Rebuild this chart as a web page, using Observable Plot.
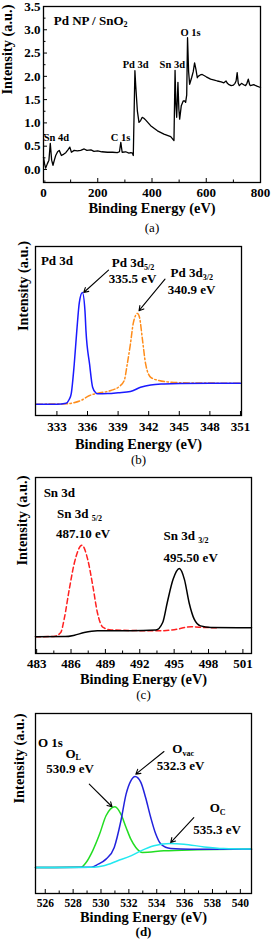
<!DOCTYPE html>
<html><head><meta charset="utf-8">
<script src="https://cdn.jsdelivr.net/npm/d3@7"></script>
<script src="https://cdn.jsdelivr.net/npm/@observablehq/plot@0.6"></script>
<style>
body{margin:0;background:#fff;}
#chart svg{display:block;}
</style></head><body><div id="chart"></div>
<script>
// ---------- (a) survey spectrum ----------
const surveyE = [0,4,8,14,20,25,30,35,40,45,52,58,66,75,82,90,97,103,113,125,137,150,160,175,186,200,215,236,255,272,280,285,290,303,315,322,328,331,334,337,340,346,352,358,364,370,377,395,420,444,469,481,485,488,491,495.6,499,502,508,515,521,524,528,531,535,538.7,546,552,557,562,567,570,578,585,600,616,630,641,655,665,673,678,684,692,700,706,710,714,718,722,730,738,745,750,755,760,763,775,787,800];
const surveyI = [0.26,0.12,0.03,0.12,0.2,0.56,0.2,0.09,0.2,0.3,0.38,0.41,0.3,0.33,0.36,0.42,0.48,0.37,0.41,0.4,0.41,0.44,0.41,0.42,0.39,0.4,0.38,0.37,0.37,0.36,0.38,0.58,0.37,0.38,0.35,0.36,0.35,0.3,1.2,2.12,1.8,1.26,1.01,1.05,1.12,1.1,1.06,0.94,0.83,0.76,0.705,0.62,2.13,1.4,1.12,1.87,1.3,1.08,1.37,1.47,1.47,1.44,1.6,2.83,2.1,1.83,1.97,2.1,2.29,2.15,1.97,2.0,2.03,2.04,1.99,1.94,1.92,1.9,1.88,1.86,1.9,1.85,1.82,1.8,1.81,1.85,1.9,2.08,1.85,1.8,1.85,1.82,1.8,1.85,1.94,1.82,1.8,1.82,1.79,1.76];
const xTicksA = [0,200,400,600,800];
const xMinorA = [100,300,500,700];
const yTicksA = [0,0.5,1,1.5,2,2.5,3,3.5];
const yMinorA = [-0.25,0.25,0.75,1.25,1.75,2.25,2.75,3.25];
const labelsA = [
  {x:38,y:3.2,t:"Pd NP / SnO_{2}",s:13},
  {x:1,y:0.68,t:"Sn 4d",s:10.5},
  {x:248,y:0.68,t:"C 1s",s:10.5},
  {x:292,y:2.26,t:"Pd 3d",s:10.5},
  {x:428,y:2.26,t:"Sn 3d",s:10.5},
  {x:505,y:2.93,t:"O 1s",s:10.5}
];

// ---------- (b) Pd 3d ----------
const pd52E = [331,333,333.9,334.2,334.4,334.7,334.95,335.2,335.5,335.75,335.85,336.2,336.5,336.8,337,338,339,340.2,341.2,342.2,343.5,345,348,351];
const pd52I = [0.067,0.067,0.073,0.095,0.128,0.305,0.502,0.67,0.728,0.62,0.50,0.305,0.167,0.135,0.128,0.13,0.135,0.142,0.167,0.181,0.187,0.19,0.191,0.191];
const pd32E = [331,334.05,334.6,335.35,336.2,337,338.3,339.1,339.6,339.9,340.2,340.5,340.9,341.1,341.4,341.7,342.2,343,344.2,346,351];
const pd32I = [0.067,0.069,0.075,0.089,0.118,0.132,0.148,0.171,0.207,0.305,0.42,0.55,0.604,0.58,0.443,0.305,0.226,0.207,0.197,0.193,0.191];
const xTicksB = [333,336,339,342,345,348,351];
const labelsB = [
  {x:331.43,y:0.915,t:"Pd 3d"},
  {x:338.38,y:0.905,t:"Pd 3d_{5/2}"},
  {x:338.09,y:0.809,t:"335.5 eV"},
  {x:344.15,y:0.846,t:"Pd 3d_{3/2}"},
  {x:343.86,y:0.742,t:"340.9 eV"}
];
const arrowsB = [
  {x1:338.06,y1:0.86,x2:335.63,y2:0.728},
  {x1:343.6,y1:0.807,x2:341.05,y2:0.62}
];

// ---------- (c) Sn 3d ----------
const sn32E = [482.9,485.5,486.3,487.15,488.3,491.2,493.4,494,494.4,494.9,495.45,495.9,496.3,496.75,497.3,498.2,501.75];
const sn32I = [0.095,0.096,0.104,0.119,0.129,0.129,0.133,0.176,0.29,0.42,0.483,0.42,0.29,0.195,0.157,0.148,0.146];
const sn52E = [482.9,484.5,485.1,485.4,485.85,486.3,486.95,487.45,487.9,488.3,488.8,489.5,493.6,495,496.5,497.6,498.8];
const sn52I = [0.095,0.097,0.119,0.195,0.366,0.517,0.615,0.536,0.385,0.233,0.148,0.134,0.129,0.135,0.152,0.148,0.146];
const xTicksC = [483,486,489,492,495,498,501];
const xMinorC = [484.5,487.5,490.5,493.5,496.5,499.5];
const labelsC = [
  {x:483.61,y:0.915,t:"Sn 3d"},
  {x:484.77,y:0.795,t:"Sn 3d _{5/2}"},
  {x:484.68,y:0.678,t:"487.10 eV"},
  {x:494.08,y:0.669,t:"Sn 3d _{3/2}"},
  {x:494.08,y:0.542,t:"495.50 eV"}
];

// ---------- (d) O 1s ----------
const oLE = [525.3,528.57,528.93,529.4,529.9,530.36,531,531.43,531.8,532.14,532.5,532.98,534.5,536.9,540.8];
const oLI = [0.144,0.146,0.172,0.237,0.33,0.432,0.482,0.441,0.367,0.302,0.256,0.228,0.237,0.243,0.247];
const oVacE = [525.3,529.3,529.8,530.36,530.95,531.43,531.8,532.14,532.45,532.86,533.2,533.57,533.93,534.3,535,536.4,540.8];
const oVacI = [0.144,0.146,0.163,0.191,0.256,0.404,0.552,0.626,0.65,0.617,0.533,0.422,0.33,0.274,0.25,0.246,0.246];
const oCE = [525.3,529.5,530.2,531.2,532.14,532.86,533.8,535,535.95,537.4,538.8,540.8];
const oCI = [0.144,0.146,0.154,0.182,0.209,0.237,0.265,0.278,0.274,0.259,0.25,0.247];
const xTicksD = [526,528,530,532,534,536,538,540];
const xMinorD = [527,529,531,533,535,537,539];
const labelsD = [
  {x:525.48,y:0.838,t:"O 1s"},
  {x:527.45,y:0.778,t:"O_{L}"},
  {x:526.07,y:0.693,t:"530.9 eV"},
  {x:535.12,y:0.802,t:"O_{vac}"},
  {x:534.0,y:0.708,t:"532.3 eV"},
  {x:537.8,y:0.476,t:"O_{C}"},
  {x:536.62,y:0.352,t:"535.3 eV"}
];
const arrowsD = [
  {x1:529.16,y1:0.608,x2:530.79,y2:0.482},
  {x1:534.52,y1:0.789,x2:532.5,y2:0.663},
  {x1:536.66,y1:0.422,x2:535.0,y2:0.283}
];

const FONT = '"Liberation Serif","Times New Roman",serif';
const zip = (xs, ys) => xs.map((x, i) => ({x, y: ys[i]}));

function subscripts(svg) {
  d3.select(svg).selectAll("text").each(function () {
    const t = this.textContent;
    if (!t.includes("_{")) return;
    const parts = t.split(/_\{([^}]*)\}/);
    const sel = d3.select(this);
    sel.text(null);
    parts.forEach((p, i) => {
      if (!p) return;
      if (i % 2 === 1) {
        sel.append("tspan").attr("font-size", "0.62em").attr("dy", "0.35em").text(p);
      } else {
        const ts = sel.append("tspan").text(p);
        if (i > 0) ts.attr("dy", "-0.22em");
      }
    });
  });
  return svg;
}

function panel({height, mt, mb, ml, mr, xd, yd, marks, tickFont, tickPad, label, labelDy, ylabelDx, caption, capDy, capWeight, xTicks, xMajor, xMinor}) {
  const fh = height - mt - mb;
  const all = [
    ...marks,
    Plot.tickX(xMajor, {x: d => d, insetTop: fh - 4, stroke: "black", strokeWidth: 1}),
    Plot.tickX(xMinor || [], {x: d => d, insetTop: fh - 2.5, stroke: "black", strokeWidth: 1}),
    Plot.axisX({ticks: xTicks, tickSize: 0, tickPadding: tickPad, fontSize: tickFont, fontWeight: "bold", label: null}),
    Plot.text([label], {text: d => d, frameAnchor: "bottom", dy: labelDy, fontSize: 14.4, fontWeight: "bold"}),
    Plot.text(["Intensity (a.u.)"], {text: d => d, frameAnchor: "left", dx: ylabelDx, rotate: -90, fontSize: 14.4, fontWeight: "bold"}),
    Plot.text([caption], {text: d => d, frameAnchor: "bottom", dy: capDy, fontSize: 13, fontWeight: capWeight}),
    Plot.frame({stroke: "black", strokeWidth: 1.3})
  ];
  const svg = Plot.plot({
    width: 271, height,
    marginTop: mt, marginBottom: mb, marginLeft: ml, marginRight: mr,
    x: {domain: xd},
    y: {domain: yd, axis: null},
    style: {fontFamily: FONT, fontWeight: "bold", color: "black", background: "white", overflow: "visible"},
    marks: all
  });
  return subscripts(svg);
}

const root = document.getElementById("chart");

// (a)
{
  const h = 238, mt = 6, mb = 56, ml = 43, mr = 11;
  const fw = 271 - ml - mr;
  root.appendChild(panel({
    height: h, mt, mb, ml, mr, xd: [0, 800], yd: [-0.28, 3.5],
    tickFont: 13, tickPad: 5, label: "Binding Energy (eV)", labelDy: 30.5, ylabelDx: -36,
    caption: "(a)", capDy: 49, capWeight: "normal",
    xTicks: xTicksA, xMajor: xTicksA, xMinor: xMinorA,
    marks: [
      Plot.line(zip(surveyE, surveyI), {x: "x", y: "y", stroke: "black", strokeWidth: 1.3}),
      Plot.tickY(yTicksA, {y: d => d, insetRight: fw - 4, stroke: "black"}),
      Plot.tickY(yMinorA.filter(v => v > -0.28), {y: d => d, insetRight: fw - 2.5, stroke: "black"}),
      Plot.axisY({ticks: yTicksA, tickFormat: d3.format(".1f"), tickSize: 0, tickPadding: 3, fontSize: 13, fontWeight: "bold", label: null}),
      Plot.text(labelsA, {x: "x", y: "y", text: "t", fontSize: "s", textAnchor: "start", fontWeight: "bold"})
    ]
  }));
}
// (b)
root.appendChild(panel({
  height: 234, mt: 8, mb: 57, ml: 35, mr: 30, xd: [330.9, 351.1], yd: [0, 1],
  tickFont: 13, tickPad: 6, label: "Binding Energy (eV)", labelDy: 33, ylabelDx: -12.5,
  caption: "(b)", capDy: 48, capWeight: "normal",
  xTicks: xTicksB, xMajor: xTicksB,
  marks: [
    Plot.line(zip(pd32E, pd32I), {x: "x", y: "y", stroke: "#ff8c1a", strokeWidth: 1.5, strokeDasharray: "6,2.5,1.5,2.5", curve: "monotone-x"}),
    Plot.line(zip(pd52E, pd52I), {x: "x", y: "y", stroke: "#1a1aff", strokeWidth: 1.5, curve: "monotone-x"}),
    Plot.arrow(arrowsB, {x1: "x1", y1: "y1", x2: "x2", y2: "y2", stroke: "black", strokeWidth: 1.1, headLength: 7}),
    Plot.text(labelsB, {x: "x", y: "y", text: "t", fontSize: 13, textAnchor: "start", fontWeight: "bold"})
  ]
}));
// (c)
root.appendChild(panel({
  height: 234, mt: 5, mb: 53, ml: 35, mr: 20, xd: [482.9, 501.75], yd: [0, 1],
  tickFont: 13, tickPad: 5, label: "Binding Energy (eV)", labelDy: 30, ylabelDx: -13,
  caption: "(c)", capDy: 45, capWeight: "normal",
  xTicks: xTicksC, xMajor: xTicksC, xMinor: xMinorC,
  marks: [
    Plot.line(zip(sn52E, sn52I), {x: "x", y: "y", stroke: "#ff2020", strokeWidth: 1.5, strokeDasharray: "5,3", curve: "monotone-x"}),
    Plot.line(zip(sn32E, sn32I), {x: "x", y: "y", stroke: "black", strokeWidth: 1.5, curve: "monotone-x"}),
    Plot.text(labelsC, {x: "x", y: "y", text: "t", fontSize: 13, textAnchor: "start", fontWeight: "bold"})
  ]
}));
// (d)
root.appendChild(panel({
  height: 240, mt: 7, mb: 53, ml: 35, mr: 20, xd: [525.3, 540.8], yd: [0, 1],
  tickFont: 11.5, tickPad: 5, label: "Binding Energy (eV)", labelDy: 28, ylabelDx: -16,
  caption: "(d)", capDy: 42, capWeight: "bold",
  xTicks: xTicksD, xMajor: xTicksD, xMinor: xMinorD,
  marks: [
    Plot.line(zip(oLE, oLI), {x: "x", y: "y", stroke: "#22dd22", strokeWidth: 1.5, curve: "monotone-x"}),
    Plot.line(zip(oVacE, oVacI), {x: "x", y: "y", stroke: "#2222dd", strokeWidth: 1.5, curve: "monotone-x"}),
    Plot.line(zip(oCE, oCI), {x: "x", y: "y", stroke: "#22e8f0", strokeWidth: 1.5, curve: "monotone-x"}),
    Plot.arrow(arrowsD, {x1: "x1", y1: "y1", x2: "x2", y2: "y2", stroke: "black", strokeWidth: 1.1, headLength: 7}),
    Plot.text(labelsD, {x: "x", y: "y", text: "t", fontSize: 13, textAnchor: "start", fontWeight: "bold"})
  ]
}));
</script></body></html>
